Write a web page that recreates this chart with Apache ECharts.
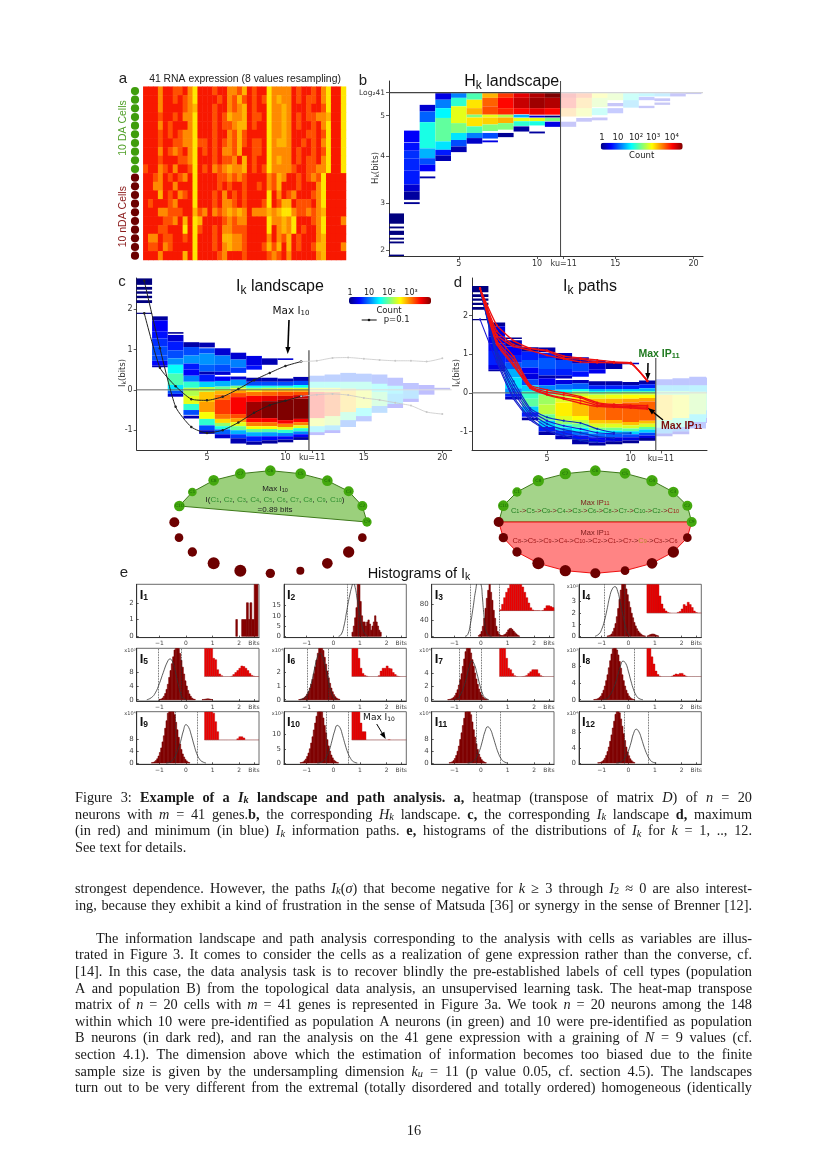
<!DOCTYPE html>
<html><head><meta charset="utf-8">
<style>html,body{margin:0;padding:0;background:#fff}#c{width:827px;height:1169px;filter:blur(.4px)}</style>
<script src="https://cdn.jsdelivr.net/npm/echarts@6/dist/echarts.min.js"></script>
</head><body><div id="c"></div>
<script>
// ---------- panel a : expression levels (0 red .. 4 yellow), one string per cell row
const exprRows = [
"0002001102 4000100221 3010042222 01001024004","0002001012 4000010213 1010142322 01011024004",
"0002000012 3000100212 3010042232 00010014004","0001001022 4000101322 3011042232 01011223004",
"0002010002 4000101123 3010042232 01001024004","0001010122 4000100213 1000042232 00011014004",
"0001001122 4110101213 1011042332 00101024004","0002012102 4010102213 0011042222 01001014004",
"0001000112 4000101120 3010042322 01011024004","1002102001 4010212322 3010142222 10011224004",
"0012010120 4000011212 1000021320 01012140000","0022002000 4000010100 1001021300 01000240000",
"0003010210 4000102010 1000040201 20001240000","0100012000 4000102210 1000140133 01110240000",
"0002211100 3120212323 2022232344 21121230000","0000112030 4300001212 2000042232 40001240002",
"0001100040 4100102211 1000040232 40100240000","0220110010 4000103322 1000020213 01000230000",
"0110210000 4000102322 1000131303 01001330002","0002000030 4000012000 1000012102 00000230000"];
const cellGroups = [10,10];
// ---------- panel b : H_k landscape, [low, high, colour level] per k
const hk = {
1:[[1.87,1.9,0],[2.14,2.18,0],[2.22,2.26,0],[2.32,2.41,0],[2.46,2.5,0],[2.56,2.78,0]],
2:[[4.3,4.55,.12],[4.12,4.29,.14],[3.95,4.12,.17],[3.7,3.95,.16],[3.4,3.7,.15],[3.25,3.4,.08],[3.07,3.25,.03],[2.98,3.02,.02]],
3:[[4.96,5.1,.08],[4.73,4.96,.22],[4.17,4.73,.4],[3.96,4.17,.3],[3.82,3.96,.2],[3.68,3.82,.12],[3.53,3.57,.04]],
4:[[5.21,5.35,.1],[5.03,5.21,.25],[4.82,5.03,.37],[4.32,4.82,.47],[4.14,4.32,.35],[4.02,4.14,.15],[3.9,4.02,.05]],
5:[[5.25,5.35,.25],[5.07,5.25,.42],[4.71,5.07,.6],[4.5,4.71,.5],[4.35,4.5,.35],[4.21,4.35,.2],[4.09,4.21,.05]],
6:[[5.21,5.35,.45],[5.03,5.21,.65],[4.89,5.03,.7],[4.83,4.89,.5],[4.64,4.83,.65],[4.5,4.64,.45],[4.39,4.5,.25],[4.27,4.39,.07]],
7:[[5.25,5.35,.7],[5.07,5.25,.78],[4.89,5.07,.8],[4.83,4.89,.6],[4.68,4.83,.67],[4.54,4.68,.5],[4.38,4.5,.2],[4.3,4.34,.1]],
8:[[5.25,5.35,.82],[5.03,5.25,.87],[4.89,5.03,.84],[4.83,4.89,.55],[4.71,4.83,.7],[4.57,4.71,.5],[4.41,4.5,.02]],
9:[[5.25,5.35,.9],[5.03,5.25,.93],[4.9,5.03,.87],[4.83,4.89,.3],[4.75,4.82,.6],[4.65,4.75,.42],[4.53,4.64,.03]],
10:[[5.25,5.35,.95],[5.03,5.25,.97],[4.89,5.03,.9],[4.83,4.87,.08],[4.75,4.82,.6],[4.66,4.75,.4],[4.49,4.53,.03]],
11:[[5.25,5.35,1],[5.03,5.25,.95],[4.89,5.03,.87],[4.83,4.87,0],[4.75,4.82,.5],[4.63,4.74,.1]],
12:[[5.25,5.35,.9],[5.03,5.25,.85],[4.85,5.03,.72],[4.63,4.74,.1]],
13:[[5.25,5.35,.8],[5.03,5.25,.7],[4.85,5.03,.6],[4.74,4.82,.1]],
14:[[5.25,5.35,.62],[5.05,5.25,.55],[4.88,5.03,.4],[4.77,4.83,.1]],
15:[[5.2,5.35,.55],[5.07,5.14,.1],[4.92,5.03,.15]],
16:[[5.2,5.35,.4],[5.04,5.2,.3]],
17:[[5.28,5.35,.35],[5.2,5.27,.15],[5.03,5.08,.1]],
18:[[5.28,5.35,.3],[5.18,5.24,.1],[5.1,5.15,.08]],
19:[[5.28,5.35,.1]],
20:[[5.33,5.36,.1]]};
// ---------- panels c, d : I_k landscape, [low, high, colour level] per k
const ik = {
1:[[2.6,2.76,0],[2.48,2.55,0],[2.38,2.44,0],[2.27,2.33,0],[2.15,2.22,0],[1.88,1.91,0]],
2:[[1.72,1.82,.03],[1.45,1.72,.12],[1.27,1.45,.14],[1.08,1.27,.17],[.85,1.08,.2],[.72,.85,.2],[.6,.72,.13],[.56,.6,.05]],
3:[[1.39,1.43,.02],[1.2,1.36,.08],[.98,1.2,.15],[.78,.98,.2],[.62,.78,.27],[.4,.62,.38],[.12,.4,.45],[-.02,.12,.35],[-.1,-.02,.2],[-.17,-.1,.08]],
4:[[1.06,1.18,.04],[.85,1.06,.2],[.65,.85,.27],[.5,.65,.15],[.35,.5,.12],[.2,.35,.25],[.05,.2,.42],[-.15,.05,.55],[-.35,-.15,.6],[-.5,-.35,.42],[-.62,-.5,.2],[-.71,-.64,.05]],
5:[[1.05,1.17,.05],[.9,1.03,.2],[.62,.9,.27],[.45,.62,.22],[.38,.45,.05],[.2,.38,.15],[.07,.2,.33],[-.05,.07,.55],[-.3,-.05,.68],[-.55,-.3,.72],[-.72,-.55,.62],[-.88,-.72,.42],[-1,-.88,.2],[-1.09,-1,.05]],
6:[[.85,1.03,.08],[.62,.85,.25],[.45,.62,.2],[.37,.45,.08],[.22,.33,.12],[.08,.22,.3],[.02,.08,.48],[-.03,.02,.6],[-.12,-.03,.7],[-.25,-.12,.76],[-.6,-.25,.82],[-.72,-.6,.76],[-.82,-.72,.66],[-.9,-.82,.52],[-.98,-.9,.4],[-1.1,-.98,.22],[-1.2,-1.1,.08]],
7:[[.75,.92,.08],[.55,.75,.25],[.42,.55,.18],[.25,.33,.08],[.1,.25,.28],[.04,.1,.5],[0,.04,.62],[-.08,0,.72],[-.18,-.08,.8],[-.6,-.18,.88],[-.7,-.6,.8],[-.8,-.7,.72],[-.9,-.8,.6],[-1,-.9,.48],[-1.1,-1,.3],[-1.2,-1.1,.18],[-1.33,-1.2,.05]],
8:[[.6,.84,.1],[.5,.6,.14],[.2,.3,.05],[.1,.2,.2],[.05,.1,.38],[0,.05,.52],[-.05,0,.64],[-.15,-.05,.76],[-.3,-.15,.88],[-.7,-.3,.97],[-.8,-.7,.87],[-.9,-.8,.75],[-.97,-.9,.62],[-1.05,-.97,.48],[-1.15,-1.05,.3],[-1.28,-1.15,.15],[-1.36,-1.28,.04]],
9:[[.62,.78,.05],[.2,.3,.05],[.1,.2,.2],[.05,.1,.4],[0,.05,.55],[-.05,0,.68],[-.15,-.05,.78],[-.28,-.15,.9],[-.7,-.28,1],[-.8,-.7,.88],[-.9,-.8,.76],[-.97,-.9,.62],[-1.05,-.97,.46],[-1.15,-1.05,.28],[-1.25,-1.15,.12],[-1.33,-1.25,.03]],
10:[[.74,.78,.08],[.2,.28,.05],[.1,.2,.2],[.05,.1,.4],[0,.05,.58],[-.05,0,.7],[-.15,-.05,.8],[-.25,-.15,.92],[-.75,-.25,1],[-.84,-.75,.88],[-.92,-.84,.75],[-.99,-.92,.6],[-1.07,-.99,.42],[-1.15,-1.07,.25],[-1.23,-1.15,.12],[-1.3,-1.23,.03]],
11:[[.22,.32,.05],[.12,.22,.2],[.05,.12,.38],[0,.05,.58],[-.05,0,.7],[-.13,-.05,.8],[-.22,-.13,.92],[-.72,-.22,1],[-.8,-.72,.88],[-.88,-.8,.75],[-.95,-.88,.6],[-1.03,-.95,.42],[-1.1,-1.03,.25],[-1.17,-1.1,.12],[-1.24,-1.17,.03]],
12:[[.2,.35,.2],[.05,.2,.4],[-.05,.05,.6],[-.7,-.05,.85],[-.9,-.7,.6],[-1.05,-.9,.35],[-1.12,-1.05,.12]],
13:[[.2,.38,.2],[.05,.2,.4],[-.05,.05,.6],[-.65,-.05,.78],[-.88,-.65,.55],[-1,-.88,.3],[-1.07,-1,.12]],
14:[[.2,.42,.2],[.03,.2,.42],[-.55,.03,.68],[-.75,-.55,.45],[-.92,-.75,.22]],
15:[[.2,.4,.2],[0,.2,.42],[-.45,0,.6],[-.65,-.45,.38],[-.78,-.65,.18]],
16:[[.15,.38,.18],[-.05,.15,.38],[-.4,-.05,.48],[-.57,-.4,.25]],
17:[[.1,.3,.15],[-.1,.1,.35],[-.35,-.1,.3],[-.45,-.35,.12]],
18:[[0,.17,.15],[-.22,0,.28],[-.3,-.22,.12]],
19:[[-.12,.12,.12]],
20:[[0,.05,.08]]};
const pathK = [1,2,3,4,5,6,7,8,9,10,11,12,13,14,15,16,17,18,19,20];
const pUpper = [1.9,.55,.09,-.23,-.26,-.17,.02,.24,.42,.59,.7,.72,.79,.8,.77,.74,.72,.72,.7,.78];
const pLower = [2.7,1.03,-.42,-.92,-1.07,-1,-.81,-.57,-.38,-.27,-.16,-.12,-.1,-.13,-.2,-.25,-.32,-.39,-.55,-.6];
// ---------- panel d : information paths, values for k = 1, 2, ...
const redPaths = [
[2.7,1.75,1.35,1.15,1.08,.9,.87,.8,.78,.76,.3],
[2.7,1.6,1.25,1.15,1.1,.95,.9,.85,.8,.78,.3],
[2.7,1.5,1.2,1.1,.97,.88,.8,.78,.78,.76,.32],
[2.7,1.45,.95,.2,.08,0,-.1,-.25,-.3,-.32,-.33],
[2.7,1.35,.85,.18,.02,-.05,-.13,-.28,-.33,-.35,-.37],
[2.7,1.3,.75,.15,-.03,-.13,-.2,-.32,-.35,-.38,-.4],
[2.7,1.25,.7,.12,-.05,-.16,-.27,-.35,-.37,-.39,-.42]];
const bluePaths = [
[2.7,1.1,.3,-.4,-.63,-.72,-.78,-.93,-1.03,-1.04],
[2.7,1.05,.2,-.45,-.72,-.85,-.93,-1.03,-1.06],
[2.7,1,.1,-.52,-.8,-.95,-1.03,-1.13,-1.17],
[2.7,.97,.02,-.58,-.88,-1.03,-1.13,-1.2,-1.25],
[2.7,.9,-.1,-.65,-.97,-1.1,-1.23,-1.27],
[1.9,.8,-.15,-.7,-.98,-1.12]];
const pathKd = [1,2,3,4,5,6,7,8,9,10,11];
// ---------- circle diagrams
const nodeNames = ["C10","C1","C8","C7","C6","C5","C4","C3","C2","C9"];
const greenLeft = [[88,138,16],[127,96,13],[191,61,16],[271,41,16],[361,32,16],[452,41,16],[532,62,16],[596,94,15],[637,138,15],[651,186,14]];
const redLeft = [[73,187,15],[87,233,13],[127,276,14],[191,310,18],[271,332,18],[361,340,14],[451,332,12],[532,310,16],[596,276,17],[637,233,13]];
const greenRight = [[70,137,16],[111,96,14],[175,62,17],[256,41,17],[346,32,16],[435,40,16],[516,62,17],[580,96,16],[622,137,15],[635,186,15]];
const redRight = [[56,186,15],[70,233,14],[111,276,14],[175,310,18],[256,332,17],[346,340,15],[435,332,13],[516,310,16],[580,276,17],[622,233,13]];
// ---------- panel e : histograms
const i1Runs = [[1.87,1.93,1],[2.09,2.27,1],[2.27,2.34,2],[2.34,2.40,1],[2.40,2.47,2],[2.47,2.56,1],[2.56,2.70,3.2]];
const histMain = {
2:[.7,[2,5,9,14,26,26,17,10,7,7,5,7,8,6,3,5,7,10,7,5,3,2]],
3:[-.1,[2,5,12,25,45,70,95,115,140,110,90,65,45,25,12,6,3,2,2,4,6,10,16,19,20,17,13,9,6,3,1]],
4:[-.8,[.02,.05,.1,.2,.4,.7,1.1,1.7,2.4,3.2,4,4.6,4.8,4.6,4.1,3.6,3,2.5,2,1.6,1.2,.9,.65,.45,.3,.2,.1,.05,.02]],
5:[-1,[.1,.2,.5,1,1.8,3,4.5,6.5,8.5,10.5,12.5,14.5,15.5,16,15,13.5,11.5,9.5,7.5,5.5,4,2.7,1.7,1,.5,.2,.1]],
6:[-1.3,[.01,.03,.06,.1,.17,.27,.42,.6,.85,1.15,1.5,1.9,2.4,2.9,3.4,3.9,4.1,4,3.6,3.1,2.6,2.1,1.6,1.2,.85,.58,.37,.22,.12,.06,.03]],
7:[-1.25,[.02,.05,.1,.2,.35,.6,1,1.5,2.2,3,3.9,5,6.1,7.2,8,8.2,7.8,7,6,5,4,3.1,2.3,1.6,1.1,.7,.4,.2,.1,.04]],
8:[-1.3,[.03,.08,.15,.3,.55,.9,1.5,2.3,3.3,4.6,6,7.7,9.4,11,12.3,13,12.9,12,10.8,9.2,7.6,6,4.6,3.3,2.3,1.5,.9,.5,.25,.1,.04]],
9:[-1.3,[.1,.2,.4,.8,1.4,2.3,3.5,5,7,9,11.5,14,16.5,18.5,20,20,18.5,16,13.5,11,8.5,6.3,4.5,3,2,1.2,.7,.3,.1]],
10:[-1.25,[.1,.2,.4,.8,1.4,2.3,3.5,5,7,9.2,11.6,14,16.4,18,19,19,18,15.8,13.2,10.6,8.2,6,4.2,2.8,1.8,1,.6,.3,.1]],
11:[-1.2,[.1,.2,.4,.8,1.5,2.5,3.9,5.6,7.8,10,12.4,14.8,17,18,18.5,17.8,16,13.6,11,8.6,6.4,4.5,3,1.9,1.1,.6,.3,.1]],
12:[-1.15,[.05,.1,.2,.4,.75,1.25,2,3,4.2,5.7,7.4,9.2,11,12.8,14,14.2,13.2,11.6,9.7,7.7,5.9,4.2,2.9,1.9,1.1,.6,.3,.1]]};
const histBump = {4:[.7,[.03,.08,.14,.18,.2,.17,.12,.07,.03]],5:[.6,[.03,.08,.15,.22,.25,.2,.12,.05]]};
const histCurve = {
2:[[.2,0],[.3,1],[.4,5],[.5,12],[.6,19],[.7,24.5],[.75,26],[.8,25],[.9,18],[1,10],[1.1,4],[1.2,1],[1.3,0]],
3:[[-.6,0],[-.5,4],[-.4,30],[-.3,70],[-.2,115],[-.1,140],[0,130],[.05,100],[.1,60],[.15,30],[.2,12],[.3,2],[.4,0]],
4:[[-1.25,0],[-1.1,.2],[-1,.6],[-.9,1.3],[-.8,2.3],[-.7,3.4],[-.6,4.1],[-.5,4.3],[-.4,3.9],[-.3,2.9],[-.2,1.8],[-.1,.8],[0,.2],[.1,0]],
5:[[-1.47,0],[-1.3,.6],[-1.15,2],[-1,4.7],[-.85,8],[-.7,11],[-.6,11.9],[-.5,11],[-.4,8.2],[-.3,4.8],[-.2,1.7],[-.1,.4],[0,0]],
6:[[-1.25,0],[-1.1,.1],[-1,.3],[-.9,.7],[-.8,1.4],[-.7,2.3],[-.6,3.1],[-.5,3.4],[-.4,3.1],[-.3,2.4],[-.2,1.5],[-.1,.7],[0,.2],[.1,0]],
7:[[-1,0],[-.85,.3],[-.75,.9],[-.65,1.9],[-.55,3.2],[-.45,4.8],[-.35,5.8],[-.25,5.3],[-.15,3.9],[-.05,2.3],[.05,1],[.15,.3],[.3,0]],
8:[[-.95,0],[-.8,.3],[-.7,1],[-.6,2.1],[-.5,3.7],[-.4,5.8],[-.3,8],[-.2,9.3],[-.1,8.8],[0,6.9],[.1,4.5],[.2,2.4],[.3,1],[.4,.3],[.55,0]],
9:[[-.75,0],[-.6,.3],[-.5,1],[-.4,2.3],[-.3,4.4],[-.2,7.2],[-.1,10.6],[0,12.7],[.1,11.8],[.2,9.2],[.3,6],[.4,3.2],[.5,1.4],[.6,.5],[.75,0]],
10:[[-.6,0],[-.45,.3],[-.35,1],[-.25,2.3],[-.15,4.4],[-.05,7.8],[.05,11.2],[.15,13.2],[.25,12.4],[.35,9.6],[.45,6.3],[.55,3.5],[.65,1.6],[.75,.5],[.9,0]],
11:[[-.5,0],[-.35,.3],[-.25,1],[-.15,2.2],[-.05,4.2],[.05,7.2],[.15,10.4],[.25,12],[.35,11.2],[.45,8.8],[.55,5.9],[.65,3.3],[.75,1.5],[.85,.5],[1,0]],
12:[[-.45,0],[-.3,.2],[-.2,.7],[-.1,1.6],[0,3.1],[.1,5.3],[.2,7.8],[.3,8.9],[.4,8.2],[.5,6.3],[.6,4.1],[.7,2.3],[.8,1],[.9,.3],[1.05,0]]};
const histDots = {2:[.52,.95],3:[-.41,.69],4:[-.91,-.15],5:[-1.04,-.16],6:[-.99,-.18],7:[-.81,0],8:[.24],9:[-.41,.43],10:[-.26,.56],11:[-.19,.71],12:[-.14,.75]};
const histTop = {1:3.1,2:25.4,3:130,4:4.5,5:15,6:3.76,7:7.7,8:12.4,9:17,10:18,11:17,12:13.5};
const histTicks = {1:[0,1,2],2:[0,5,10,15],3:[0,40,80],4:[0,1,2,3],5:[0,4,8],6:[0,1,2],7:[0,2,4],8:[0,4,8],9:[0,4,8],10:[0,5,10],11:[0,4,8],12:[0,4,8]};
const histScale = {4:"x10²",5:"x10³",6:"x10⁴",7:"x10⁴",8:"x10³",9:"x10⁴",10:"x10³",11:"x10⁴",12:"x10⁴"};
const insetBars = {
3:[.05,.25,.5,.7,.85,1,1,1,1,1,1,.9,.7,.5,.3,.12,.04,.01,.01,.01,0,.02,.1,.2,.2,.17,.13],
4:[1,1,1,1,1,1,.6,.32,.16,.08,.03,.01,0,0,0,.03,.06,.15,.3,.25,.38,.3,.2,.08,.03,.01,.01],
5:[1,1,1,1,.65,.6,.25,.1,.04,0,0,0,0,.02,.08,.15,.22,.3,.38,.36,.3,.22,.12,.05,.02,.01,.01],
6:[1,1,1,.65,.3,.12,.05,.02,0,0,0,0,0,.04,.2,.3,.3,.38,.3,.28,.15,.08,.03,.01,0,0,0],
7:[1,1,1,.65,.3,.25,.12,.04,.01,0,0,.01,.02,.05,.12,.18,.25,.25,.25,.12,.04,.01,0,0,0,0,0],
8:[1,1,.7,.45,.2,.08,.02,0,0,0,0,0,.02,.06,.1,.08,.12,.12,.06,.02,0,0,0,0,0,0,0],
9:[1,1,1,1,.95,.65,.3,0,0,0,0,0,0,0,0,0,.05,.12,.12,.08,0,0,0,0,0,0,0],
10:[1,1,1,1,.6,.3,.3,0,0,0,0,0,0,0,0,0,0,0,.015,0,0,0,0,0,0,0,0]};
// ---------- page text
const captionLines = [
"Figure 3: *Example of a ~I_k~ landscape and path analysis.* *a,* heatmap (transpose of matrix ~D~) of ~n~ = 20",
"neurons with ~m~ = 41 genes.*b,* the corresponding ~H_k~ landscape. *c,* the corresponding ~I_k~ landscape *d,* maximum",
"(in red) and minimum (in blue) ~I_k~ information paths. *e,* histograms of the distributions of ~I_k~ for ~k~ = 1, .., 12.",
"See text for details."];
const bodyLines = [
"strongest dependence. However, the paths ~I_k~(~σ~) that become negative for ~k~ ≥ 3 through ~I~_2 ≈ 0 are also interest-",
"ing, because they exhibit a kind of frustration in the sense of Matsuda [36] or synergy in the sense of Brenner [12]."];
const paraLines = [
"The information landscape and path analysis corresponding to the analysis with cells as variables are illus-",
"trated in Figure 3. It comes to consider the cells as a realization of gene expression rather than the converse, cf.",
"[14]. In this case, the data analysis task is to recover blindly the pre-established labels of cell types (population",
"A and population B) from the topological data analysis, an unsupervised learning task. The heat-map transpose",
"matrix of ~n~ = 20 cells with ~m~ = 41 genes is represented in Figure 3a. We took ~n~ = 20 neurons among the 148",
"within which 10 were pre-identified as population A neurons (in green) and 10 were pre-identified as population",
"B neurons (in dark red), and ran the analysis on the 41 gene expression with a graining of ~N~ = 9 values (cf.",
"section 4.1). The dimension above which the estimation of information becomes too biased due to the finite",
"sample size is given by the undersampling dimension ~k_u~ = 11 (p value 0.05, cf. section 4.5). The landscapes",
"turn out to be very different from the extremal (totally disordered and totally ordered) homogeneous (identically"];
const captionY = [798.3,815,831.7,848.3];
const bodyY = [889.3,906];
const paraY = [939,955.7,972.3,989,1005.7,1022,1038.7,1055,1072,1088.7];

// =================== build =====================
const SANS='"Liberation Sans"', DJ='"DejaVu Sans"', SERIF='"Liberation Serif"';
const grids=[],xAxes=[],yAxes=[],series=[],gfx=[];
function addGrid(l,t,w,h,xa,ya,extra){grids.push(Object.assign({left:l,top:t,width:w,height:h,containLabel:false},extra||{}));
  xa.gridIndex=grids.length-1;ya.gridIndex=grids.length-1;xAxes.push(xa);yAxes.push(ya);return grids.length-1;}
const hidden=(o)=>Object.assign({type:'value',show:false},o);
function T(x,y,text,size,o){o=o||{};gfx.push({type:'text',x,y,rotation:o.rot||0,silent:true,z:50,style:Object.assign({text,font:(o.w||'')+' '+size+'px '+(o.f||SANS),fill:o.c||'#222',align:o.a||'center',verticalAlign:'middle'},o.rich?{rich:o.rich}:{})});}
function arrow(x0,y0,x1,y1,w){const a=Math.atan2(y1-y0,x1-x0),L=7,W=2.6,bx=x1-L*Math.cos(a),by=y1-L*Math.sin(a);
  gfx.push({type:'line',silent:true,z:50,shape:{x1:x0,y1:y0,x2:bx,y2:by},style:{stroke:'#000',lineWidth:w||1.6}});
  gfx.push({type:'polygon',silent:true,z:50,shape:{points:[[x1,y1],[bx-W*Math.sin(a),by+W*Math.cos(a)],[bx+W*Math.sin(a),by-W*Math.cos(a)]]},style:{fill:'#000'}});}
function lineS(g,data,color,width,o){series.push(Object.assign({type:'line',xAxisIndex:g,yAxisIndex:g,data,showSymbol:false,silent:true,animation:false,lineStyle:{color,width},itemStyle:{color},z:5},o||{}));}
const axisCommon=(size)=>({type:'value',axisLine:{show:true,onZero:false,lineStyle:{color:'#333',width:1}},axisTick:{show:true,length:3,lineStyle:{color:'#333',width:.8}},splitLine:{show:false},axisLabel:{fontFamily:DJ,fontSize:size,color:'#333',margin:4}});
function axisWith(size,values,labels,o){const a=axisCommon(size);a.axisLabel.customValues=values;a.axisTick.customValues=values;a.axisLabel.formatter=v=>{const i=values.indexOf(v);return labels?labels[i]:String(v);};return Object.assign(a,o);}

// ---- a
const rowsClean=exprRows.map(r=>r.replace(/ /g,''));
const heatData=[];rowsClean.forEach((r,y)=>{[...r].forEach((c,x)=>heatData.push([x,y,+c]));});
const cols=[...rowsClean[0]].map((_,i)=>String(i));const rowNames=rowsClean.map((_,i)=>String(i));
const gA=addGrid(143.3,86.7,202.7,173.3,{type:'category',data:cols,show:false},{type:'category',data:rowNames,inverse:true,show:false});
series.push({type:'heatmap',xAxisIndex:gA,yAxisIndex:gA,data:heatData,silent:true,animation:false,itemStyle:{borderWidth:0}});
const gAd=addGrid(129,86.7,12,173.3,hidden({min:0,max:1}),{type:'category',data:rowNames,inverse:true,show:false});
series.push({type:'scatter',xAxisIndex:gAd,yAxisIndex:gAd,symbolSize:8.2,silent:true,animation:false,
  data:rowNames.map((n,i)=>({value:[.5,n],itemStyle:{opacity:1,color:i<cellGroups[0]?'#3f9d0c':'#6b0000'}}))});
T(123,79,'a',15);T(245,79,'41 RNA expression (8 values resampling)',10.4);
T(123,128,'10 DA Cells',10.5,{c:'#53a12b',rot:Math.PI/2});T(123,216.7,'10 nDA Cells',10.5,{c:'#8a1a1a',rot:Math.PI/2});

// ---- tiles
function tileRender(fade){return function(params,api){const k=api.value(0),lo=api.value(1),hi=api.value(2);
  const p0=api.coord([k-.5,hi]),p1=api.coord([k+.5,lo]);
  return {type:'rect',shape:{x:p0[0],y:p0[1],width:p1[0]-p0[0],height:p1[1]-p0[1]},style:{fill:api.visual('color'),opacity:k>11.5?fade:1}};};}
function tilesOf(obj,scale){const out=[];Object.keys(obj).forEach(k=>obj[k].forEach(t=>out.push([+k,t[0],t[1],t[2]*scale])));return out;}
function tileSeries(g,data,fade){series.push({type:'custom',xAxisIndex:g,yAxisIndex:g,data,renderItem:tileRender(fade),clip:true,silent:true,animation:false,encode:{x:0,y:[1,2]},z:2});return series.length-1;}

const titleRich={a:{fontSize:16,fontFamily:SANS,fill:'#111',lineHeight:20},b:{fontSize:12,fontFamily:SANS,fill:'#111',verticalAlign:'bottom',lineHeight:20}};
// ---- b
const gB=addGrid(389,81,314,175,
  axisWith(8,[5,10,11.7,15,20],['5','10','ku=11','15','20'],{min:.54,max:20.6}),
  axisWith(7.5,[2,3,4,4.87,5.36],['2','3','4','5','Log₂41'],{min:1.87,max:5.61}));
const sB=tileSeries(gB,tilesOf(hk,1),.22);
lineS(gB,[[.54,5.36],[11.5,5.36]],'#444',1.3);lineS(gB,[[11.5,5.36],[20.6,5.36]],'#d4d4d8',1.3);
lineS(gB,[[11.5,1.87],[11.5,5.61]],'#444',1);
T(363,81,'b',15);
T(511.7,82,'{a|H}{b|k}{a| landscape}',16,{rich:titleRich});
T(376,168,'{a|H}{b|k}{a|(bits)}',8.5,{f:DJ,c:'#333',rot:Math.PI/2,rich:{a:{fontSize:8.5,fontFamily:DJ,fill:'#333'},b:{fontSize:6,fontFamily:DJ,fill:'#333',verticalAlign:'bottom'}}});
[[602,'1'],[618,'10'],[636,'10²'],[653,'10³'],[671.7,'10⁴']].forEach(p=>T(p[0],138,p[1],8.5,{f:DJ,c:'#222'}));
T(641.7,155.7,'Count',8.5,{f:DJ});

// ---- c
const gC=addGrid(136.7,278,315,172,
  axisWith(8,[5,10,11.7,15,20],['5','10','ku=11','15','20'],{min:.52,max:20.6}),
  axisWith(8,[-1,0,1,2],['-1','0','1','2'],{min:-1.49,max:2.77}));
const sC=tileSeries(gC,tilesOf(ik,1),.25);
lineS(gC,[[.52,0],[11.5,0]],'#666',1);lineS(gC,[[11.5,0],[20.6,0]],'#ddd',1);
lineS(gC,[[11.5,-1.49],[11.5,.98]],'#555',1.3);
function pathLines(g,ks,ys,split,color,fadeColor,w){const a=[],b=[];ys.forEach((y,i)=>{if(ks[i]<=split)a.push([ks[i],y]);if(ks[i]>=split)b.push([ks[i],y]);});
  lineS(g,a,color,w,{showSymbol:true,symbol:'circle',symbolSize:2.5,smooth:.2,z:6});if(b.length)lineS(g,b,fadeColor,.8,{showSymbol:true,symbol:'circle',symbolSize:2,smooth:.2,z:6});}
pathLines(gC,pathK,pUpper,11,'#222','#c8c8c8',1);
pathLines(gC,pathK,pLower,11,'#222','#c8c8c8',1);
T(122,282,'c',15);
T(280,287,'{a|I}{b|k}{a| landscape}',16,{rich:titleRich});
const tinyRich={a:{fontSize:8.5,fontFamily:DJ,fill:'#333'},b:{fontSize:6,fontFamily:DJ,fill:'#333',verticalAlign:'bottom'}};
T(123,373,'{a|I}{b|k}{a|(bits)}',8.5,{f:DJ,rot:Math.PI/2,rich:tinyRich});
[[350,'1'],[369,'10'],[389,'10²'],[411,'10³']].forEach(p=>T(p[0],292.7,p[1],8,{f:DJ}));
T(389,310.7,'Count',8.5,{f:DJ});T(396.7,320,'p=0.1',8.5,{f:DJ});
gfx.push({type:'line',silent:true,z:50,shape:{x1:361.7,y1:320,x2:376.7,y2:320},style:{stroke:'#111',lineWidth:1}});
gfx.push({type:'circle',silent:true,z:50,shape:{cx:369,cy:320,r:1.3},style:{fill:'#111'}});
T(291,311,'{a|Max I}{b|10}',10,{f:DJ,rich:{a:{fontSize:10.5,fontFamily:DJ,fill:'#111'},b:{fontSize:7,fontFamily:DJ,fill:'#111',verticalAlign:'bottom'}}});
arrow(289,320,287.7,354,1.6);

// ---- d
const gD=addGrid(472,278,235,172.5,
  axisWith(8,[5,10,11.8],['5','10','ku=11'],{min:.52,max:14.56}),
  axisWith(8,[-1,0,1,2],['-1','0','1','2'],{min:-1.49,max:2.97}));
const sD=tileSeries(gD,tilesOf(ik,.78),.25);
lineS(gD,[[.52,0],[11.5,0]],'#666',1);lineS(gD,[[11.5,0],[14.56,0]],'#ddd',1);
lineS(gD,[[11.5,-1.49],[11.5,.9]],'#555',1.2);
const dK=(arr)=>arr.map((v,i)=>[pathKd[i],v]);
bluePaths.forEach((p,i)=>lineS(gD,dK(p),i%2?'#1a1ad0':'#0a2ec0',1.1,{showSymbol:true,symbol:'circle',symbolSize:2.2,smooth:.15,z:6}));
redPaths.forEach(p=>lineS(gD,dK(p),'#ee1111',1.3,{showSymbol:true,symbol:'circle',symbolSize:2.2,smooth:.15,z:7}));
T(458,283,'d',15);T(590,287,'{a|I}{b|k}{a| paths}',16,{rich:titleRich});
T(457,373,'{a|I}{b|k}{a|(bits)}',8.5,{f:DJ,rot:Math.PI/2,rich:tinyRich});
const greenT={a:{fontSize:10.5,fontWeight:'bold',fontFamily:SANS,fill:'#1f7a1f'},b:{fontSize:7.5,fontWeight:'bold',fontFamily:SANS,fill:'#1f7a1f',verticalAlign:'bottom'}};
const redT={a:{fontSize:10.5,fontWeight:'bold',fontFamily:SANS,fill:'#7a0f0f'},b:{fontSize:7.5,fontWeight:'bold',fontFamily:SANS,fill:'#7a0f0f',verticalAlign:'bottom'}};
T(659,354,'{a|Max IP}{b|11}',11,{rich:greenT});T(681.7,425.7,'{a|Max IP}{b|11}',11,{rich:redT});
arrow(648,363,647.7,380,1.5);arrow(663,420,648,408,1.3);

// ---- circles
function circleChart(ox,greens,reds,polys){
  const g=addGrid(ox,460,250,120,hidden({min:0,max:750}),hidden({min:0,max:360,inverse:true}));
  polys.forEach(pl=>{series.push({type:'custom',xAxisIndex:g,yAxisIndex:g,data:[[0,0]],silent:true,animation:false,z:3,
    renderItem:(p,api)=>({type:'polygon',shape:{points:pl.pts.map(q=>api.coord([q[0],q[1]]))},style:{fill:pl.fill,stroke:pl.stroke,lineWidth:1}})});});
  series.push({type:'scatter',xAxisIndex:g,yAxisIndex:g,silent:true,animation:false,z:4,data:reds,symbolSize:v=>v[2]*2/3,itemStyle:{color:'#6d0000',opacity:1}});
  series.push({type:'scatter',xAxisIndex:g,yAxisIndex:g,silent:true,animation:false,z:4,data:greens.map((d,i)=>({value:d,name:nodeNames[i]})),symbolSize:v=>v[2]*2/3,itemStyle:{color:'#44a80f',opacity:1},
    label:{show:true,position:'inside',formatter:'{b}',fontSize:4.5,color:'#1c6b08',fontFamily:DJ}});
}
circleChart(150,greenLeft,redLeft,[{pts:greenLeft.map(p=>[p[0],p[1]]),fill:'#9bd07c',stroke:'#3e7a1a'}]);
circleChart(480,greenRight,redRight,[
 {pts:greenRight.map(p=>[p[0],p[1]]).concat([[56,186]]),fill:'#a4d48a',stroke:'#3e7a1a'},
 {pts:[[56,186]].concat(redRight.slice(1).map(p=>[p[0],p[1]])).concat([[635,186]]),fill:'#ff8484',stroke:'#ee1111'}]);
const sm={k:{fontSize:8,fontFamily:SANS,fill:'#222'},g:{fontSize:8,fontFamily:SANS,fill:'#2f8f2f'},gs:{fontSize:5.5,fontFamily:SANS,fill:'#2f8f2f',verticalAlign:'bottom'},s:{fontSize:5.5,fontFamily:SANS,fill:'#222',verticalAlign:'bottom'},
  r:{fontSize:7.5,fontFamily:SANS,fill:'#a01818'},rs:{fontSize:5.5,fontFamily:SANS,fill:'#a01818',verticalAlign:'bottom'},o:{fontSize:7.5,fontFamily:SANS,fill:'#1e7d1e'},os:{fontSize:5.5,fontFamily:SANS,fill:'#1e7d1e',verticalAlign:'bottom'},
  h:{fontSize:7.5,fontFamily:SANS,fill:'#7a1a1a'},y:{fontSize:7.5,fontFamily:SANS,fill:'#b5892a'},ys:{fontSize:5.5,fontFamily:SANS,fill:'#b5892a',verticalAlign:'bottom'}};
T(275,489,'{k|Max I}{s|10}',8,{rich:sm});
const cSeq=[1,2,3,4,5,6,7,8,9,10].map(n=>`{g|C}{gs|${n}}`).join('{k|, }');
T(275,499.3,'{k|I(}'+cSeq+'{k|)}',8,{rich:sm});
T(275,509.3,'{k|=0.89 bits}',8,{rich:sm});
const seqText=(seq,main,mainS,last)=>seq.map((n,i)=>{const c=(last&&last.includes(i))?['r','rs']:[main,mainS];return `{${c[0]}|C}{${c[1]}|${n}}`;}).join('{h|->}');
T(595,502.7,'{h|Max IP}{rs|11}',7.5,{rich:sm});
T(595,510.7,seqText([1,5,9,4,3,6,8,7,10,2,10],'o','os',[10]),7.5,{rich:sm});
T(595,532.7,'{h|Max IP}{rs|11}',7.5,{rich:sm});
T(595,540.7,[8,5,9,4,10,2,1,7,9,3,6].map((n,i)=>i===8?`{y|C}{ys|${n}}`:`{r|C}{rs|${n}}`).join('{h|->}'),7.5,{rich:sm});

// ---- e histograms
const colX=[136.7,284,431.7,579],rowY=[584.3,648.3,711.7],PW=122.3,PH=[53.3,52.7,52.6];
T(124,573,'e',15);T(419,574,'{a|Histograms of I}{b|k}',14,{rich:{a:{fontSize:14.5,fontFamily:SANS,fill:'#111',lineHeight:18},b:{fontSize:10.5,fontFamily:SANS,fill:'#111',verticalAlign:'bottom',lineHeight:18}}});
function histRender(fill,stroke,lw){return function(p,api){const a=api.coord([api.value(0),api.value(2)]),b=api.coord([api.value(1),0]);
  return {type:'rect',shape:{x:a[0],y:a[1],width:b[0]-a[0],height:b[1]-a[1]},style:{fill,stroke,lineWidth:lw}};};}
const stepBars=(h)=>h?h[1].map((v,i)=>[h[0]+i*.05,h[0]+(i+1)*.05,v]):[];
for(let n=1;n<=12;n++){
  const r=Math.floor((n-1)/4),c=(n-1)%4,x=colX[c],y=rowY[r],h=PH[r],top=histTop[n];
  const ya=axisWith(7,histTicks[n],histTicks[n].map(String),{min:-top*.025,max:top});
  ya.axisTick.inside=true;ya.axisTick.length=2;ya.axisLabel.margin=3;ya.axisLabel.color='#444';
  const xa=axisWith(6,[-1,0,1,2,2.55],['−1','0','1','2','Bits'],{min:-1.85,max:2.74});
  xa.axisTick.inside=true;xa.axisTick.length=2;xa.axisLabel.margin=3;xa.axisLabel.color='#444';
  const g=addGrid(x,y,PW,h,xa,ya,{show:true,borderColor:'#444',borderWidth:.8,backgroundColor:'#fff'});
  const bars=(n===1?i1Runs:stepBars(histMain[n])).concat(stepBars(histBump[n]));
  const ml=histDots[n]?{silent:true,symbol:'none',animation:false,label:{show:false},lineStyle:{type:'dotted',color:'#333',width:.8},data:histDots[n].map(v=>({xAxis:v}))}:undefined;
  series.push({type:'custom',xAxisIndex:g,yAxisIndex:g,data:bars,encode:{x:[0,1],y:2},renderItem:histRender('#860000','#780000',.6),clip:true,silent:true,animation:false,z:3,markLine:ml});
  if(histCurve[n])lineS(g,histCurve[n],'#333',.8,{smooth:true,z:4});
  T(x+3,y+11,`{a|I}{b|${n}}`,12,{a:'left',rich:{a:{fontSize:13,fontFamily:SANS,fontWeight:'bold',fill:'#111'},b:{fontSize:8.5,fontFamily:SANS,fontWeight:'bold',fill:'#111',verticalAlign:'bottom'}}});
  if(histScale[n])T(x-1,y+2.5,histScale[n],5,{a:'right',f:DJ,c:'#444'});
  if(insetBars[n]){
    const vals=insetBars[n],ih=n===3?26.7:(n===4?29:28.5);
    const gi=addGrid(x+PW*.555,y,PW*.445,ih,hidden({min:0,max:vals.length}),hidden({min:0,max:1}));
    series.push({type:'custom',xAxisIndex:gi,yAxisIndex:gi,data:vals.map((v,i)=>[i,i+1,v]),encode:{x:[0,1],y:2},renderItem:histRender('#ee0000','#b00000',.4),clip:true,silent:true,animation:false,z:8});
    lineS(gi,[[0,0],[vals.length,0]],'#888',.6,{z:9});
  }
}
T(379,718,'{a|Max I}{b|10}',9,{f:DJ,rich:{a:{fontSize:9,fontFamily:DJ,fill:'#111'},b:{fontSize:6,fontFamily:DJ,fill:'#111',verticalAlign:'bottom'}}});
arrow(376.7,724,385.7,739,1);

// ---- page text
const mctx=document.createElement('canvas').getContext('2d');
const TS=14.3;
function fontOf(p){return (p.i?'italic ':'')+(p.b?'bold ':'')+(p.sub?TS*.72:TS)+'px '+SERIF;}
function parseWord(w,st){const out=[];let buf='';const fl=()=>{if(buf){out.push({t:buf,b:st.b,i:st.i});buf='';}};
  for(let i=0;i<w.length;i++){const ch=w[i];if(ch==='*'){fl();st.b=!st.b;}else if(ch==='~'){fl();st.i=!st.i;}
    else if(ch==='_'){fl();const nx=w[++i];out.push({t:nx,sub:true,i:isNaN(+nx),b:st.b});}else buf+=ch;}fl();return out;}
function drawLine(line,y,x0,x1,just){const st={b:false,i:false};
  const words=line.split(' ').map(w=>{const ps=parseWord(w,st);let width=0;ps.forEach(p=>{mctx.font=fontOf(p);p.w=mctx.measureText(p.t).width;width+=p.w;});return{ps,width};});
  const total=words.reduce((s,w)=>s+w.width,0);
  const gap=just?(x1-x0-total)/(words.length-1):TS*.27;let x=x0;
  words.forEach(w=>{w.ps.forEach(p=>{gfx.push({type:'text',x,y:y+(p.sub?2.5:0),silent:true,z:60,style:{text:p.t,font:fontOf(p),fill:'#1a1a1a',align:'left',verticalAlign:'middle'}});x+=p.w;});x+=gap;});}
captionLines.forEach((l,i)=>drawLine(l,captionY[i],75,752,i<3));
bodyLines.forEach((l,i)=>drawLine(l,bodyY[i],75,752,true));
paraLines.forEach((l,i)=>drawLine(l,paraY[i],i===0?96:75,752,true));
gfx.push({type:'text',x:414,y:1131.7,silent:true,z:60,style:{text:'16',font:TS+'px '+SERIF,fill:'#1a1a1a',align:'center',verticalAlign:'middle'}});

const jet=['#00007f','#0000ff','#007fff','#00ffff','#7fff7f','#ffff00','#ff7f00','#ff0000','#7f0000'];
const chart=echarts.init(document.getElementById('c'),null,{renderer:'canvas',width:827,height:1169});
chart.setOption({animation:false,backgroundColor:'#fff',grid:grids,xAxis:xAxes,yAxis:yAxes,series,
 visualMap:[
  {type:'continuous',show:false,min:0,max:4,seriesIndex:0,dimension:2,inRange:{color:['#f81800','#ff5000','#ff8a00','#ffb400','#ffe600']}},
  {type:'continuous',min:0,max:1,seriesIndex:sB,dimension:3,orient:'horizontal',left:600.7,top:142.7,itemWidth:7,itemHeight:82,padding:0,inRange:{color:jet},calculable:false,hoverLink:false},
  {type:'continuous',min:0,max:1,seriesIndex:sC,dimension:3,orient:'horizontal',left:349,top:297,itemWidth:7.3,itemHeight:82,padding:0,inRange:{color:jet},calculable:false,hoverLink:false},
  {type:'continuous',show:false,min:0,max:1,seriesIndex:sD,dimension:3,inRange:{color:jet}}],
 graphic:{elements:gfx}});
</script></body></html>
